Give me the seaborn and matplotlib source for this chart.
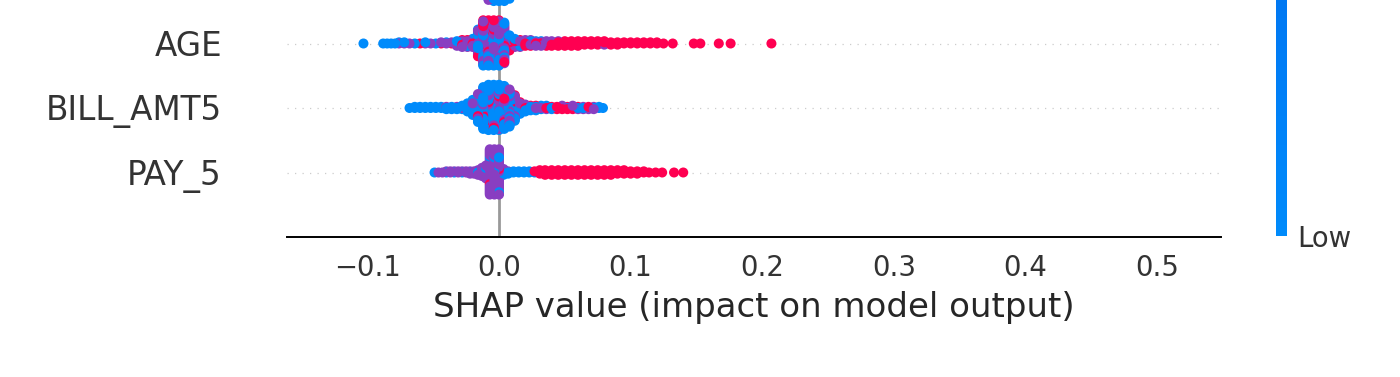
import numpy as np
import pandas as pd
import matplotlib
matplotlib.use("Agg")
import matplotlib.pyplot as plt
import seaborn as sns
from matplotlib.colors import LinearSegmentedColormap, Normalize
from matplotlib.cm import ScalarMappable

# ---------------- data ----------------
features = ["PAY_5", "BILL_AMT5", "AGE", "BILL_AMT1"]      # bottom -> top
x_ticks = [-0.1, 0.0, 0.1, 0.2, 0.3, 0.4, 0.5]
xlabel_text = "SHAP value (impact on model output)"
cbar_labels = ["Low", "High"]
LOW, MID, HIGH = 0.0, 0.42, 1.0     # feature value (colour) of each class

# per feature: SHAP value bins and number of points with low / mid / high feature value
pay5_shap = [-0.049, -0.046, -0.043, -0.040, -0.037, -0.034, -0.031, -0.028, -0.025, -0.022,
             -0.019, -0.016, -0.013, -0.010, -0.007, -0.0035, 0.000, 0.0035, 0.007, 0.011,
             0.015, 0.019, 0.023, 0.027, 0.031, 0.035, 0.040, 0.045, 0.050, 0.055,
             0.060, 0.065, 0.070, 0.075, 0.080, 0.085, 0.090, 0.095, 0.100, 0.105,
             0.110, 0.114, 0.119, 0.124, 0.133, 0.140]
pay5_low = [1, 0, 0, 1, 0, 1, 0, 1, 0, 1,
            0, 1, 1, 2, 2, 3, 5, 3, 2, 2,
            2, 2, 2, 1, 0, 0, 0, 0, 0, 0,
            0, 0, 0, 0, 0, 0, 0, 0, 0, 0,
            0, 0, 0, 0, 0, 0]
pay5_mid = [0, 1, 1, 1, 2, 1, 2, 1, 2, 2,
            3, 4, 7, 10, 36, 35, 33, 3, 1, 0,
            0, 0, 0, 0, 0, 0, 0, 0, 0, 0,
            0, 0, 0, 0, 0, 0, 0, 0, 0, 0,
            0, 0, 0, 0, 0, 0]
pay5_high = [0, 0, 0, 0, 0, 0, 0, 0, 0, 0,
             0, 0, 0, 0, 2, 2, 2, 0, 0, 0,
             0, 0, 0, 1, 4, 5, 5, 5, 5, 5,
             5, 5, 5, 5, 5, 5, 4, 4, 3, 3,
             2, 1, 1, 1, 1, 1]

bill5_shap = [-0.068, -0.064, -0.060, -0.056, -0.052, -0.048, -0.044, -0.040, -0.036, -0.032,
              -0.028, -0.024, -0.020, -0.016, -0.012, -0.008, -0.004, 0.000, 0.004, 0.008,
              0.012, 0.016, 0.020, 0.024, 0.028, 0.032, 0.036, 0.040, 0.044, 0.048,
              0.052, 0.056, 0.060, 0.064, 0.068, 0.072, 0.076, 0.079]
bill5_low = [1, 2, 2, 2, 2, 2, 2, 2, 3, 2,
             3, 6, 10, 18, 26, 28, 28, 27, 26, 22,
             14, 6, 3, 3, 3, 3, 2, 2, 1, 1,
             1, 1, 1, 1, 1, 1, 2, 1]
bill5_mid = [0, 0, 0, 0, 0, 0, 0, 1, 0, 1,
             1, 2, 3, 5, 8, 9, 9, 9, 8, 7,
             5, 3, 2, 1, 1, 1, 1, 0, 0, 1,
             0, 1, 1, 2, 1, 2, 0, 0]
bill5_high = [0, 0, 0, 0, 0, 0, 0, 0, 0, 0,
              0, 0, 1, 2, 3, 3, 3, 4, 4, 4,
              4, 2, 2, 1, 1, 0, 1, 1, 2, 2,
              2, 2, 1, 0, 1, 0, 0, 0]

age_shap = [-0.103, -0.088, -0.085, -0.082, -0.079, -0.076, -0.072, -0.068, -0.064, -0.060,
            -0.056, -0.052, -0.048, -0.044, -0.040, -0.036, -0.032, -0.028, -0.024, -0.020,
            -0.016, -0.012, -0.008, -0.004, 0.000, 0.004, 0.008, 0.012, 0.016, 0.020,
            0.024, 0.028, 0.032, 0.036, 0.040, 0.045, 0.050, 0.055, 0.060, 0.065,
            0.070, 0.075, 0.080, 0.085, 0.090, 0.095, 0.100, 0.105, 0.110, 0.115,
            0.120, 0.125, 0.132, 0.148, 0.153, 0.167, 0.176, 0.207]
age_low = [1, 1, 1, 1, 1, 1, 1, 0, 1, 0,
           1, 0, 1, 0, 1, 0, 2, 2, 2, 3,
           7, 11, 13, 13, 13, 11, 4, 3, 2, 2,
           2, 1, 1, 0, 0, 0, 0, 0, 0, 0,
           0, 0, 0, 0, 0, 0, 0, 0, 0, 0,
           0, 0, 0, 0, 0, 0, 0, 0]
age_mid = [0, 0, 0, 0, 0, 1, 1, 1, 0, 0,
           1, 1, 0, 1, 1, 1, 2, 3, 3, 3,
           12, 23, 22, 22, 22, 20, 6, 3, 3, 2,
           2, 2, 2, 2, 1, 1, 0, 0, 0, 0,
           0, 0, 1, 0, 0, 0, 0, 0, 0, 0,
           0, 0, 0, 0, 0, 0, 0, 0]
age_high = [0, 0, 0, 0, 0, 0, 0, 0, 0, 1,
            0, 0, 0, 1, 0, 1, 1, 2, 2, 2,
            5, 6, 5, 5, 5, 5, 4, 2, 2, 2,
            2, 2, 2, 3, 4, 4, 5, 5, 5, 4,
            4, 4, 3, 3, 3, 2, 2, 2, 2, 2,
            2, 1, 1, 1, 1, 1, 1, 1]

bill1_shap = [-0.012, -0.008, -0.004, 0.000, 0.004, 0.008, 0.012]
bill1_low = [6, 36, 38, 38, 38, 34, 6]
bill1_mid = [0, 2, 2, 2, 2, 2, 0]
bill1_high = [0, 0, 0, 0, 0, 0, 0]

rows = [
    (pay5_shap, pay5_low, pay5_mid, pay5_high),
    (bill5_shap, bill5_low, bill5_mid, bill5_high),
    (age_shap, age_low, age_mid, age_high),
    (bill1_shap, bill1_low, bill1_mid, bill1_high),
]

# ---------------- SHAP red-blue colormap (LCH interpolation) ----------------
def lch_to_rgb(L, C, H):
    a = C * np.cos(H)
    b = C * np.sin(H)
    fy = (L + 16.0) / 116.0
    fx = fy + a / 500.0
    fz = fy - b / 200.0
    def finv(t):
        return np.where(t > 6 / 29, t ** 3, 3 * (6 / 29) ** 2 * (t - 4 / 29))
    X = 0.95047 * finv(fx)
    Y = finv(fy)
    Z = 1.08883 * finv(fz)
    r = 3.2406 * X - 1.5372 * Y - 0.4986 * Z
    g = -0.9689 * X + 1.8758 * Y + 0.0415 * Z
    bb = 0.0557 * X - 0.2040 * Y + 1.0570 * Z
    rgb = np.clip(np.array([r, g, bb]), 0, None)
    srgb = np.where(rgb <= 0.0031308, 12.92 * rgb, 1.055 * rgb ** (1 / 2.4) - 0.055)
    return np.clip(srgb, 0, 1)

nsteps = 100
l_vals = list(np.linspace(54.0, 40.0, nsteps // 2)) + list(np.linspace(40.0, 54.0, nsteps // 2))
c_vals = np.linspace(70.0, 90.0, nsteps)
h_vals = np.linspace(4.6588, 0.35470565 + 2 * np.pi, nsteps)
cols = [tuple(lch_to_rgb(l, c, h)) for l, c, h in zip(l_vals, c_vals, h_vals)]
red_blue = LinearSegmentedColormap.from_list("red_blue", cols)

# ---------------- beeswarm layout (as in shap.summary_plot) ----------------
recs = []
for pos, (sv, nl, nm, nh) in enumerate(rows):
    xs, fv, ys = [], [], []
    for v, a, b, c in zip(sv, nl, nm, nh):
        labels = [LOW] * a + [MID] * b + [HIGH] * c
        n = len(labels)
        order = np.argsort((np.arange(n) * 0.6180339887 + 0.37 * pos) % 1.0)
        for k, idx in enumerate(order):
            xs.append(v)
            fv.append(labels[idx])
            ys.append(np.ceil(k / 2) * ((k % 2) * 2 - 1))
    ys = np.array(ys, float)
    ys *= 0.9 * (0.42 / (ys.max() + 1))
    for x, f, y in zip(xs, fv, ys):
        recs.append({"shap": x, "y": pos + y, "feature_value": f})
df = pd.DataFrame(recs)
df = df.iloc[np.argsort((np.arange(len(df)) * 0.7548776662) % 1.0)].reset_index(drop=True)

# ---------------- figure ----------------
sns.set_style("white")
plt.rcParams["font.family"] = ["DejaVu Sans"]

fig = plt.figure(figsize=(14, 3.77), dpi=100)
ax = fig.add_axes([287 / 1400, 140 / 377, 933.7 / 1400, 322.5 / 377])

ax.axvline(0, color="#999999", lw=2.0, zorder=-1)
for pos in range(len(features)):
    ax.axhline(pos, color="#cccccc", lw=0.9, dashes=(1, 5), zorder=-1)

sns.scatterplot(data=df, x="shap", y="y", hue="feature_value", palette=red_blue,
                hue_norm=(0, 1), s=52, linewidth=0, legend=False, ax=ax, zorder=3)

ax.set_ylim(-1, len(features))
ax.set_xlim(-0.1611, 0.5484)
ax.set_yticks(range(len(features)))
ax.set_yticklabels(features, fontsize=23.5, color="#333333")
ax.set_xticks(x_ticks)
ax.tick_params("x", labelsize=19.8, length=6.3, width=1.3, color="#333333",
               labelcolor="#333333", pad=6.0)
ax.tick_params("y", length=0, pad=46.8)
for s in ["top", "right", "left"]:
    ax.spines[s].set_visible(False)
ax.spines["bottom"].set_linewidth(1.4)
ax.spines["bottom"].set_color("black")
ax.set_xlabel(xlabel_text, fontsize=24.5, labelpad=6.5)
ax.set_ylabel("")

cax = fig.add_axes([1276 / 1400, 141 / 377, 11 / 1400, 1800 / 377])
sm = ScalarMappable(norm=Normalize(0, 1), cmap=red_blue)
cb = fig.colorbar(sm, cax=cax, ticks=[0, 1])
cb.set_ticklabels(cbar_labels)
cb.ax.tick_params(labelsize=19.8, length=0, pad=7.5, labelcolor="#333333")
cb.outline.set_visible(False)
cb.set_label("Feature value", size=21.6, labelpad=0)

fig.savefig("out.png", dpi=100)
